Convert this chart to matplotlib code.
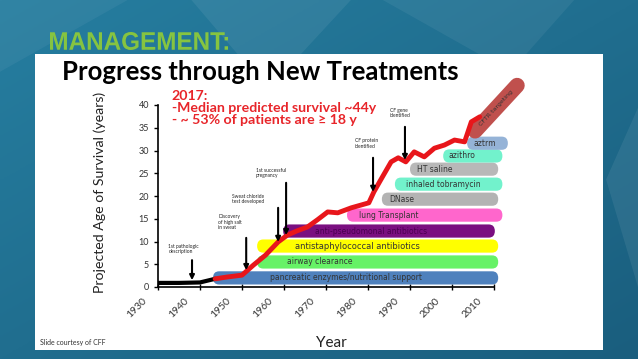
import numpy as np
import matplotlib
matplotlib.use("Agg")
import matplotlib.pyplot as plt
from matplotlib.patches import FancyBboxPatch, Rectangle, Polygon, PathPatch
from matplotlib.transforms import ScaledTranslation, Affine2D, IdentityTransform
from matplotlib.textpath import TextPath
from matplotlib.font_manager import FontProperties

# survival curve
years_early = [1930, 1935, 1940, 1943.6]
age_early = [0.9, 0.9, 1.0, 1.8]
years_red = [1943.6, 1946.5, 1950, 1952.7, 1955.6, 1958.6, 1960.8, 1963, 1965.6,
             1968, 1970.4, 1972.8, 1976, 1980.2, 1981.4, 1983, 1985.5, 1987.2,
             1989, 1991, 1993.4, 1995.8, 1998.2, 2000.6, 2003, 2004.6, 2006.6]
age_red = [1.8, 2.2, 2.6, 4.8, 7.0, 9.9, 11.4, 12.3, 13.2, 14.8, 16.5, 16.3,
           17.4, 18.5, 20.9, 23.5, 27.5, 28.4, 27.5, 29.7, 28.6, 30.5, 31.2,
           32.3, 31.9, 36.3, 37.4]

# treatments: start, end, level
treat_names = ["pancreatic enzymes/nutritional support", "airway clearance",
               "antistaphylococcal antibiotics", "anti-pseudomonal antibiotics",
               "lung Transplant", "DNase", "inhaled tobramycin", "HT saline",
               "azithro", "aztrm"]
treat_start = [1943.1, 1953.6, 1953.6, 1959.8, 1975.0, 1983.3, 1986.4, 1990.0, 1997.9, 2003.6]
treat_end = [2011, 2011, 2011, 2010.2, 2012, 2011, 2012, 2011, 2012, 2013.3]
treat_level = [2.0, 5.5, 9.0, 12.3, 15.8, 19.3, 22.6, 25.9, 28.8, 31.6]
treat_colors = ["#4f81bd", "#66f266", "#ffff00", "#7a0f80", "#ff66cc", "#b3b3b3",
                "#72f2cc", "#b8b8b8", "#72f2cc", "#95b3d7"]
treat_text_x = [1974.8, 1968.5, 1977.4, 1980.7, 1985.0, 1988.0, 1997.9, 1996.0, 2002.4, 2007.9]

# milestones: year, arrow tip, arrow top, label
mile_year = [1938.1, 1951.0, 1958.6, 1960.5, 1981.2, 1988.8]
mile_tip = [1.5, 3.7, 9.9, 11.4, 20.9, 27.9]
mile_top = [5.9, 10.8, 17.4, 22.9, 28.4, 35.2]
mile_labels = ["1st pathologic\ndescription", "Discovery\nof high salt\nin sweat",
               "Sweat chloride\ntest developed", "1st successful\npregnancy",
               "CF protein\nidentified", "CF gene\nidentified"]
mile_lab_x = [1932.5, 1944.3, 1947.5, 1953.3, 1976.9, 1985.2]
mile_lab_y = [8.4, 14.2, 19.4, 25.1, 31.5, 38.2]

# CFTR targeting pill (start/end)
cftr_x = [2005.5, 2015.5]
cftr_y = [34.3, 44.3]

x_ticks = list(range(1930, 2011, 10))
y_ticks = list(range(0, 41, 5))

W, H = 638, 359
fig = plt.figure(figsize=(W / 100, H / 100), dpi=100)

# slide background
bg = fig.add_axes([0, 0, 1, 1])
gx, gy = np.meshgrid(np.linspace(0, 1, 200), np.linspace(0, 1, 120))
c1 = np.array([0x26, 0x7e, 0xa0]) / 255
c2 = np.array([0x1a, 0x5e, 0x7e]) / 255
t = (0.5 * gx + 0.5 * gy)[..., None]
img = c1 * (1 - t) + c2 * t
bg.imshow(img, extent=[0, 1, 0, 1], aspect="auto", origin="upper")
for pts, a in [([(0.3, 1), (0.55, 1), (0.42, 0.75)], 0.07),
               ([(0.6, 1), (0.9, 1), (0.8, 0.8)], 0.06),
               ([(0.0, 0.8), (0.2, 1), (0.0, 1)], 0.05),
               ([(0.95, 0.5), (1, 0.2), (1, 0.7)], 0.07)]:
    bg.add_patch(Polygon(pts, closed=True, color="white", alpha=a, lw=0))
bg.set_xlim(0, 1)
bg.set_ylim(0, 1)
bg.axis("off")

fig.patches.append(Rectangle((35 / W, 1 - 350 / H), (603 - 35) / W, (350 - 54) / H,
                             transform=fig.transFigure, facecolor="white", edgecolor="none",
                             zorder=1))

# condensed heading drawn as a path, squeezed to the box it has on the slide
tp = TextPath((0, 0), "MANAGEMENT:", size=20,
              prop=FontProperties(family="Liberation Sans", weight="bold"))
ext = tp.get_extents()
sx = (228 - 50) / ext.width
sy = (50 - 32) / ext.height
tr = Affine2D().translate(-ext.x0, -ext.y0).scale(sx, sy).translate(50, H - 50)
fig.patches.append(PathPatch(tp, transform=tr + IdentityTransform(), facecolor="#86c440",
                             edgecolor="none", zorder=3))

fig.text(62 / W, 1 - 72 / H, "Progress through New Treatments", color="black",
         fontsize=18.5, fontweight="bold", family="Lato", va="center", zorder=3)
fig.text(40 / W, 1 - 343 / H, "Slide courtesy of CFF", fontsize=5, color="#333333",
         family="Lato", va="center", zorder=3)

ax = fig.add_axes([158 / W, 1 - 287 / H, (494 - 158) / W, (287 - 105) / H])
ax.set_zorder(2)
ax.patch.set_alpha(0)
ax.set_xlim(1930, 2010)
ax.set_ylim(0, 40)

for nm, s, e, lv, col, tx in zip(treat_names, treat_start, treat_end, treat_level,
                                 treat_colors, treat_text_x):
    h = 2.9
    ax.add_patch(FancyBboxPatch((s, lv - h / 2), e - s, h,
                                boxstyle="round,pad=0,rounding_size=1.45",
                                facecolor=col, edgecolor="none", clip_on=False, zorder=2))
    tcol = "#4a0050" if col == "#7a0f80" else "#333333"
    fs = 6.0 if nm.startswith("antistaph") else 5.5
    ax.text(tx, lv, nm, ha="center", va="center", fontsize=fs, color=tcol,
            family="DejaVu Sans", zorder=3, clip_on=False)

ax.plot(cftr_x, cftr_y, color="#c0504d", lw=11, solid_capstyle="round",
        clip_on=False, zorder=2)
ax.text(np.mean(cftr_x), np.mean(cftr_y), "CFTR targeting", rotation=47, fontsize=4.5,
        ha="center", va="center", color="#333333", family="DejaVu Sans", zorder=3)

ax.plot(years_early, age_early, color="black", lw=3, solid_capstyle="round", zorder=4)
ax.plot(years_red, age_red, color="#e8161b", lw=3.5, solid_capstyle="round",
        solid_joinstyle="round", clip_on=False, zorder=4)

for yr, tip, top, lab, lx, ly in zip(mile_year, mile_tip, mile_top, mile_labels,
                                     mile_lab_x, mile_lab_y):
    ax.annotate("", xy=(yr, tip), xytext=(yr, top),
                arrowprops=dict(arrowstyle="-|>", color="black", lw=1.5,
                                mutation_scale=7, shrinkA=0, shrinkB=0), zorder=5)
    ax.text(lx, ly, lab, fontsize=3.5, ha="left", va="center", color="#222222",
            family="Lato", linespacing=1.1, zorder=5)

ax.text(1933.3, 39.3, "2017:\n-Median predicted survival ~44y\n- ~ 53% of patients are \u2265 18 y",
        color="#e8252a", fontsize=10.2, fontweight="bold", family="Lato", va="center",
        ha="left", linespacing=1.0, clip_on=False, zorder=5)

for sp in ["top", "right"]:
    ax.spines[sp].set_visible(False)
for sp in ["left", "bottom"]:
    ax.spines[sp].set_linewidth(1.2)
ax.set_xticks(x_ticks)
ax.set_yticks(y_ticks)
ax.tick_params(axis="x", direction="inout", length=5, width=1, labelsize=7.5,
               labelcolor="#333333", pad=4)
ax.tick_params(axis="y", direction="out", length=3, width=1, labelsize=6.5,
               labelcolor="#333333")
ax.set_xticklabels([str(v) for v in x_ticks], rotation=45, ha="right", va="top",
                   family="Lato")
off = ScaledTranslation(-10 / 100, 0, fig.dpi_scale_trans)
for lb in ax.get_xticklabels():
    lb.set_transform(lb.get_transform() + off)
for lb in ax.get_yticklabels():
    lb.set_family("Lato")

fig.text(100 / W, 1 - 192 / H, "Projected Age of Survival (years)", rotation=90,
         fontsize=10.2, family="Lato", ha="center", va="center", color="#222222", zorder=3)
fig.text(331 / W, 1 - 343 / H, "Year", fontsize=11, family="Lato",
         ha="center", va="center", color="#222222", zorder=3)

fig.savefig("out.png", dpi=100)
